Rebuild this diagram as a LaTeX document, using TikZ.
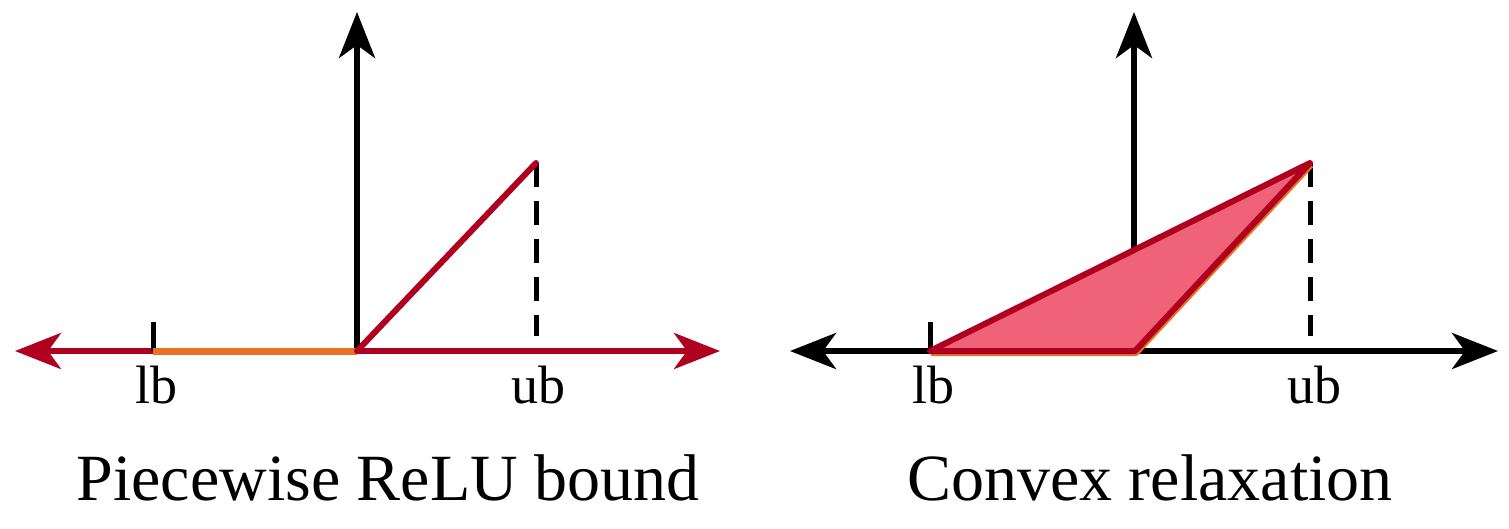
\documentclass[tikz,border=0pt]{standalone}
\usepackage{fontspec}
\setmainfont{Liberation Serif}
\usetikzlibrary{arrows.meta}
\definecolor{dred}{RGB}{176,0,32}
\definecolor{orng}{RGB}{232,115,34}
\definecolor{pinkf}{RGB}{240,98,119}
\tikzset{
  tip/.tip={Stealth[length=46pt,width=36pt,inset=13pt]},
  axis/.style={line width=6pt,-{tip}},
  daxis/.style={line width=6pt,{tip}-{tip}},
  tickm/.style={line width=5pt,black},
  dashln/.style={line width=5pt,black,dash pattern=on 24pt off 14pt},
  lbl/.style={font=\fontsize{54pt}{60pt}\selectfont,anchor=base,inner sep=0pt},
  ttl/.style={font=\fontsize{66pt}{72pt}\selectfont,anchor=base,inner sep=0pt},
}
\begin{document}
\begin{tikzpicture}[x=1pt,y=-1pt]
\useasboundingbox (0,0) rectangle (1509,528);
% ---------- left panel ----------
\coordinate (LL) at (15,351);
\coordinate (LR) at (720,351);
\coordinate (LO) at (357,351);
\coordinate (LT) at (357,12);
\coordinate (Llb) at (153,351);
\coordinate (Llbt) at (153,322);
\coordinate (Lub) at (536,163);
\coordinate (Lubb) at (536,336);
\draw[daxis,dred] (LL) -- (LR);
\draw[axis,black] (LO) -- (LT);
\draw[tickm] (Llb) -- (Llbt);
\draw[line width=7pt,orng] (Llb) -- (LO);
\draw[dashln] (Lub) -- (Lubb);
\draw[line width=6pt,dred,line cap=round] (LO) -- (Lub);
\node[lbl] (lbL) at (156,403) {lb};
\node[lbl] (ubL) at (538,403) {ub};
\node[ttl] (tL) at (388,500) {Piecewise ReLU bound};
% ---------- right panel ----------
\coordinate (RL) at (790,351);
\coordinate (RR) at (1498,351);
\coordinate (RO) at (1134,351);
\coordinate (RT) at (1134,12);
\coordinate (Rlb) at (930,351);
\coordinate (Rlbt) at (930,322);
\coordinate (Rub) at (1310,163);
\coordinate (Rubb) at (1310,336);
\coordinate (Rk) at (1135,351);
\draw[daxis,black] (RL) -- (RR);
\draw[axis,black] (RO) -- (RT);
\draw[tickm] (Rlb) -- (Rlbt);
\draw[dashln] (Rub) -- (Rubb);
\draw[line width=6pt,orng,line join=round] ([shift={(1,2)}]Rlb) -- ([shift={(1,2)}]Rk) -- ([shift={(1,2)}]Rub);
\draw[line width=6pt,dred,fill=pinkf,line join=round] (Rlb) -- (Rub) -- (Rk) -- cycle;
\node[lbl] (lbR) at (933,403) {lb};
\node[lbl] (ubR) at (1314,403) {ub};
\node[ttl] (tR) at (1150,500) {Convex relaxation};
\end{tikzpicture}
\end{document}
